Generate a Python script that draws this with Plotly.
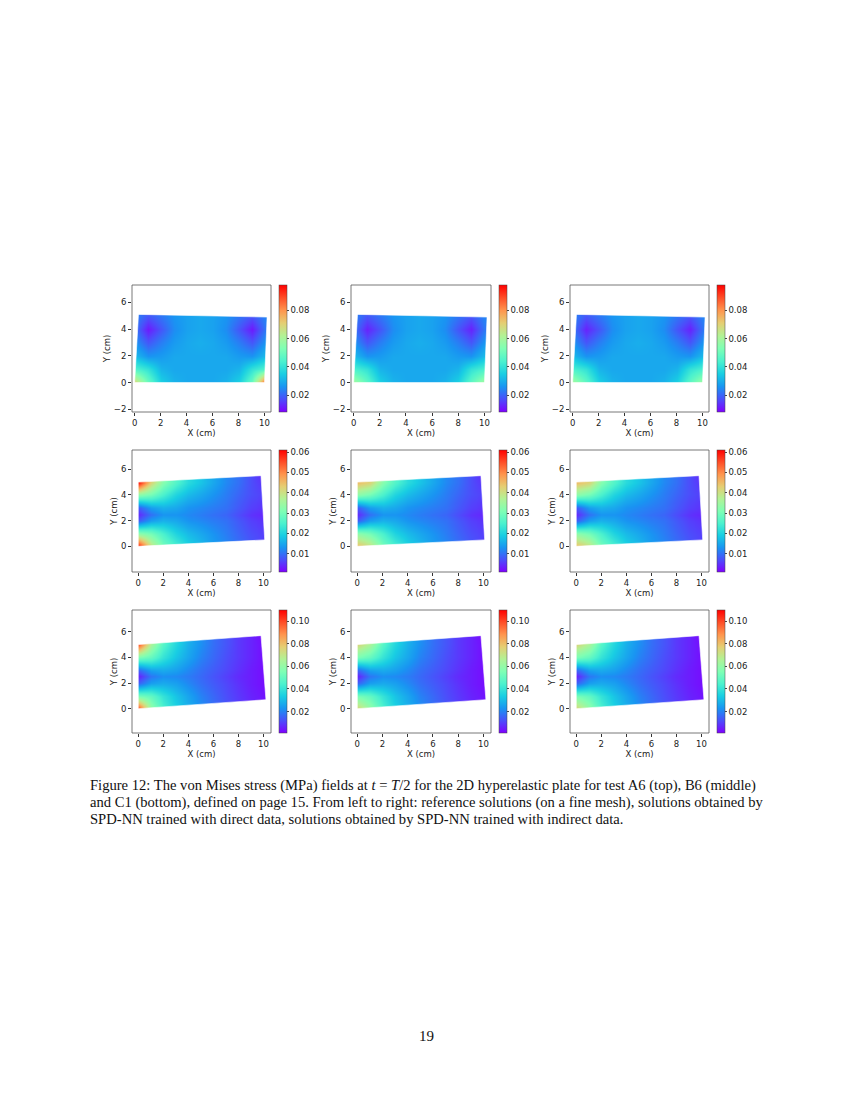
import numpy as np
import plotly.graph_objects as go

# ---------------- data (estimated von Mises stress, MPa) ----------------
xA = [0,1,2,3,4,5,6,7,8,9,10]
yA = [0,1,2,3,4,5]
zA_ref = [
 [0.07,0.05,0.036,0.031,0.029,0.029,0.029,0.031,0.036,0.05,0.09],
 [0.045,0.04,0.031,0.029,0.029,0.029,0.029,0.029,0.031,0.04,0.045],
 [0.032,0.026,0.027,0.029,0.029,0.029,0.029,0.029,0.027,0.026,0.032],
 [0.026,0.018,0.023,0.027,0.029,0.03,0.029,0.027,0.023,0.018,0.026],
 [0.022,0.011,0.018,0.025,0.028,0.029,0.028,0.025,0.018,0.011,0.022],
 [0.024,0.018,0.022,0.026,0.028,0.029,0.028,0.026,0.022,0.018,0.024],
]
zA_dir = [
 [0.06,0.048,0.036,0.031,0.029,0.029,0.029,0.031,0.036,0.048,0.06],
 [0.044,0.04,0.031,0.029,0.029,0.029,0.029,0.029,0.031,0.04,0.044],
 [0.032,0.026,0.027,0.029,0.029,0.029,0.029,0.029,0.027,0.026,0.032],
 [0.026,0.018,0.023,0.027,0.029,0.03,0.029,0.027,0.023,0.018,0.026],
 [0.022,0.012,0.018,0.025,0.028,0.029,0.028,0.025,0.018,0.012,0.022],
 [0.024,0.018,0.022,0.026,0.028,0.029,0.028,0.026,0.022,0.018,0.024],
]
zA_ind = zA_dir
xB = [0,1,2,3,4,5,6,7,8,9,10]
yB = [0,1,2,2.5,3,4,5,5.6]
zB_ref = [
 [0.06,0.04,0.03,0.025,0.02,0.017,0.014,0.012,0.01,0.008,0.006],
 [0.033,0.03,0.025,0.02,0.017,0.015,0.013,0.011,0.009,0.007,0.006],
 [0.008,0.014,0.016,0.015,0.013,0.012,0.011,0.01,0.008,0.006,0.005],
 [0.004,0.01,0.013,0.013,0.012,0.011,0.01,0.009,0.007,0.005,0.004],
 [0.008,0.014,0.016,0.015,0.013,0.012,0.011,0.01,0.008,0.006,0.005],
 [0.033,0.03,0.025,0.02,0.017,0.015,0.013,0.011,0.009,0.007,0.006],
 [0.06,0.042,0.032,0.026,0.021,0.018,0.015,0.012,0.01,0.007,0.005],
 [0.06,0.042,0.032,0.026,0.021,0.018,0.015,0.012,0.01,0.007,0.004],
]
zB_dir = [[min(v, 0.045) if i == 0 else v for i, v in enumerate(r)] for r in zB_ref]
zB_ind = zB_dir
yC = [0,1,2,2.5,3,4,5,5.8]
zC_ref = [
 [0.1,0.06,0.045,0.035,0.028,0.022,0.017,0.013,0.01,0.007,0.004],
 [0.055,0.05,0.04,0.032,0.026,0.02,0.016,0.012,0.009,0.006,0.004],
 [0.015,0.025,0.027,0.025,0.021,0.017,0.014,0.011,0.008,0.005,0.003],
 [0.005,0.018,0.022,0.021,0.019,0.016,0.013,0.01,0.007,0.005,0.003],
 [0.015,0.025,0.027,0.025,0.021,0.017,0.014,0.011,0.008,0.005,0.003],
 [0.055,0.05,0.04,0.032,0.026,0.02,0.016,0.012,0.009,0.006,0.003],
 [0.1,0.065,0.047,0.036,0.028,0.022,0.017,0.013,0.009,0.006,0.003],
 [0.1,0.065,0.047,0.036,0.028,0.022,0.017,0.013,0.009,0.006,0.002],
]
zC_dir = [[min(v, 0.075) if i == 0 else v for i, v in enumerate(r)] for r in zC_ref]
zC_ind = zC_dir

ranges_c = [(0.008, 0.098), (0.001, 0.061), (0.001, 0.11)]
ticks_c = [[0.02,0.04,0.06,0.08], [0.01,0.02,0.03,0.04,0.05,0.06], [0.02,0.04,0.06,0.08,0.10]]
ticktext_c = [["0.02","0.04","0.06","0.08"], ["0.01","0.02","0.03","0.04","0.05","0.06"],
              ["0.02","0.04","0.06","0.08","0.10"]]

outlines = [[(0.3,5.1),(10.2,4.9),(10.0,0.0),(0.0,0.0)],
            [(0.0,5.0),(9.8,5.5),(10.1,0.5),(0.0,0.0)],
            [(0.0,5.0),(9.8,5.7),(10.2,0.7),(0.0,0.0)]]
xranges = [(-0.2,10.5),(-0.5,10.6),(-0.5,10.6)]
yranges = [(-2.2,7.3),(-2.0,7.5),(-1.9,7.7)]
yticks = [[-2,0,2,4,6],[0,2,4,6],[0,2,4,6]]

# ---------------- style ----------------
def rainbow(n=11):
    out = []
    for i in range(n):
        t = i/(n-1)
        r = min(1, abs(2*t-0.5)); g = np.sin(np.pi*t); b = np.cos(np.pi*t/2)
        out.append([t, f"rgb({int(r*255)},{int(g*255)},{int(b*255)})"])
    return out
cs = rainbow()

W, H = 850, 1100
M = 50
OX, OY = 7, 8   # page offset correction
PW, PH = W-2*M, H-2*M
fx = lambda px: (px-OX-M)/PW
fy = lambda py: 1-(py-OY-M)/PH
colx = [(131,270),(350,490),(569,708)]
rowy = [(285,412),(450,572),(610,733)]

fig = go.Figure()
grids = [(xA,yA,[zA_ref,zA_dir,zA_ind]),(xB,yB,[zB_ref,zB_dir,zB_ind]),(xB,yC,[zC_ref,zC_dir,zC_ind])]
layout = {}
shapes = []
k = 0
for r in range(3):
    xs, ys, zs = grids[r]
    for c in range(3):
        k += 1
        sx = "" if k == 1 else str(k)
        x0, x1 = colx[c]; y0, y1 = rowy[r]
        fig.add_trace(go.Heatmap(x=xs, y=ys, z=zs[c], zsmooth="best", coloraxis="coloraxis"+sx,
                                 xaxis="x"+sx, yaxis="y"+sx))
        ax = dict(domain=[fx(x0), fx(x1)], anchor="y"+sx, range=list(xranges[r]), automargin=False,
                  tickvals=[0,2,4,6,8,10], ticks="outside", ticklen=3, tickcolor="#333",
                  showgrid=False, zeroline=False, tickfont=dict(size=8.5, color="#222"),
                  title=dict(text="X (cm)", font=dict(size=8.5, color="#222"), standoff=1))
        ay = dict(domain=[fy(y1), fy(y0)], anchor="x"+sx, range=list(yranges[r]), automargin=False,
                  tickvals=yticks[r], ticktext=[str(v).replace("-","−") for v in yticks[r]],
                  ticks="outside", ticklen=3, tickcolor="#333",
                  showgrid=False, zeroline=False, tickfont=dict(size=8.5, color="#222"),
                  title=dict(text="Y (cm)", font=dict(size=8.5, color="#222"), standoff=1))
        layout["xaxis"+sx] = ax; layout["yaxis"+sx] = ay
        layout["coloraxis"+sx] = dict(colorscale=cs, cmin=ranges_c[r][0], cmax=ranges_c[r][1],
            colorbar=dict(x=fx(x1+8), xanchor="left", y=fy(y1), yanchor="bottom", len=(y1-y0)/PH,
                          lenmode="fraction", thickness=8, outlinewidth=0.5, outlinecolor="#444",
                          xpad=0, ypad=0,
                          tickvals=ticks_c[r], ticktext=ticktext_c[r], ticks="outside", ticklen=2,
                          tickfont=dict(size=8.5, color="#222")))
        tl, tr, br, bl = outlines[r]
        xr, yr = "x"+sx, "y"+sx
        big = 30
        paths = [
            f"M {-big},{tl[1]} L {tl[0]},{tl[1]} L {tr[0]},{tr[1]} L {big},{tr[1]} L {big},{big} L {-big},{big} Z",
            f"M {-big},{bl[1]} L {bl[0]},{bl[1]} L {br[0]},{br[1]} L {big},{br[1]} L {big},{-big} L {-big},{-big} Z",
            f"M {tr[0]},{tr[1]+0.05} L {br[0]},{br[1]-0.05} L {big},{br[1]-0.05} L {big},{tr[1]+0.05} Z",
            f"M {tl[0]},{tl[1]+0.05} L {bl[0]},{bl[1]-0.05} L {-big},{bl[1]-0.05} L {-big},{tl[1]+0.05} Z",
        ]
        for p in paths:
            shapes.append(dict(type="path", path=p, xref=xr, yref=yr, fillcolor="white",
                               line=dict(width=0.6, color="white"), layer="above"))
        shapes.append(dict(type="rect", xref=xr+" domain", yref=yr+" domain", x0=0, x1=1, y0=0, y1=1,
                           line=dict(color="#555", width=0.8), layer="above"))

serif = "Liberation Serif"
cap = ["Figure 12: The von Mises stress (MPa) fields at <i>t</i> = <i>T</i>/2 for the 2D hyperelastic plate for test A6 (top), B6 (middle)",
       "and C1 (bottom), defined on page 15. From left to right: reference solutions (on a fine mesh), solutions obtained by",
       "SPD-NN trained with direct data, solutions obtained by SPD-NN trained with indirect data."]
ann = []
for i, t in enumerate(cap):
    ann.append(dict(text=t, x=fx(87), y=fy(785+i*17), xref="paper", yref="paper", xanchor="left",
                    yanchor="middle", showarrow=False, font=dict(family=serif, size=14.6, color="#111")))
ann.append(dict(text="19", x=fx(425), y=fy(1046), xref="paper", yref="paper", showarrow=False,
                font=dict(family=serif, size=15, color="#111")))

fig.update_layout(width=W, height=H, margin=dict(l=M, r=M, t=M, b=M, autoexpand=False),
                  paper_bgcolor="white", plot_bgcolor="white", font=dict(family="DejaVu Sans"),
                  shapes=shapes, annotations=ann, **layout)
fig.write_html("out.html")
